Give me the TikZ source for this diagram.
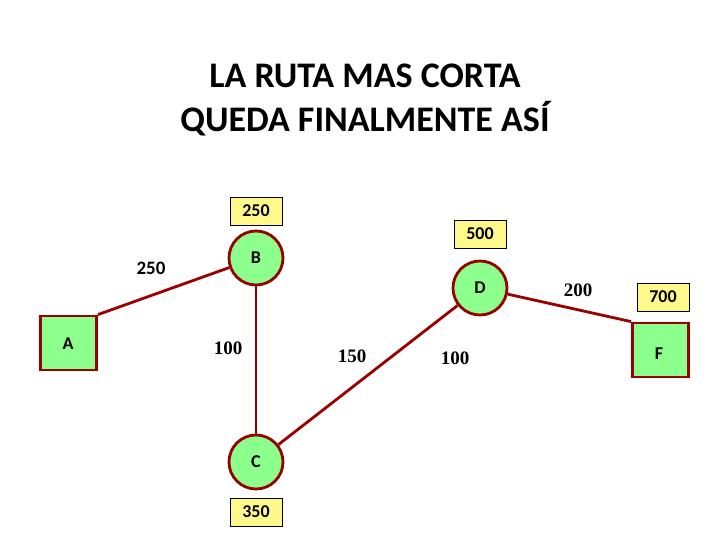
\documentclass[tikz,border=0pt]{standalone}
\usepackage{fontspec}
\setmainfont{Carlito}
\newfontfamily\serifnum{Liberation Serif}
\begin{document}
\begin{tikzpicture}[x=1pt,y=-1pt,
  edge/.style={draw=red!60!black,line width=2.8pt},
  sq/.style={draw=red!60!black,line width=2.8pt,fill=green!45!white,minimum width=56pt,minimum height=54pt,inner sep=0},
  circ/.style={circle,draw=red!60!black,line width=2.8pt,fill=green!45!white,minimum size=54pt,inner sep=0,font=\bfseries\fontsize{18}{20}\selectfont},
  val/.style={draw=black,fill=yellow!45!white,minimum width=52pt,minimum height=28pt,inner sep=0,font=\bfseries\fontsize{18}{20}\selectfont},
  lab/.style={font=\bfseries\fontsize{19}{21}\selectfont},
  slab/.style={font=\bfseries\fontsize{19}{21}\serifnum}]
\useasboundingbox (0,0) rectangle (728,546);
\node[font=\bfseries\fontsize{36}{44}\selectfont,align=center] (t) at (365,100) {LA RUTA MAS CORTA\\QUEDA FINALMENTE ASÍ};
\node[sq] (A) at (68.5,343) {};
\node[font=\bfseries\fontsize{18}{20}\selectfont] (Al) at (68,344) {A};
\node[sq] (F) at (660.5,350) {};
\node[font=\bfseries\fontsize{18}{20}\selectfont] (Fl) at (659,354) {F};
\node[circ] (B) at (256,258) {B};
\node[circ] (C) at (256,462) {C};
\node[circ] (D) at (480,288) {D};
\draw[edge] (A.north east) -- (B);
\draw[edge] (B) -- (C);
\draw[edge] (C) -- (D);
\draw[edge] (D) -- (F.north west);
\node[val] (vB) at (256,211) {250};
\node[val] (vD) at (480,234) {500};
\node[val] (vF) at (663,297) {700};
\node[val] (vC) at (256,512) {350};
\node[lab] (l1) at (151,268) {250};
\node[slab] (l2) at (228,348) {100};
\node[slab] (l3) at (352,356) {150};
\node[slab] (l4) at (455,358) {100};
\node[slab] (l5) at (578,290) {200};
\end{tikzpicture}
\end{document}
